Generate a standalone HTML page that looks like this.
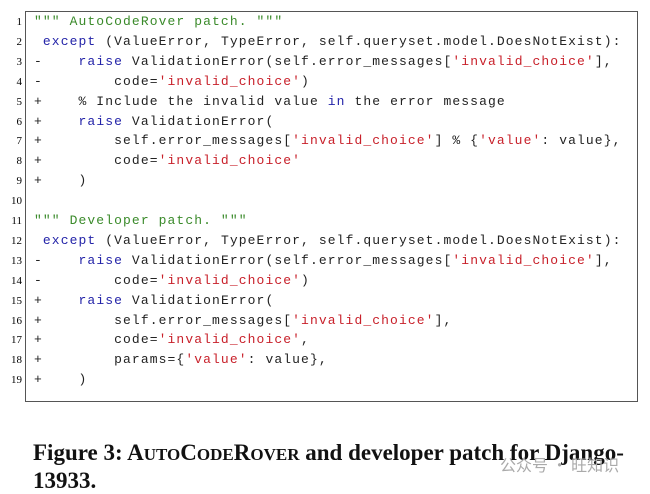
<!DOCTYPE html>
<html><head><meta charset="utf-8"><style>
body{margin:0;width:650px;height:494px;background:#fff;position:relative;overflow:hidden}
.box{position:absolute;left:25px;top:11px;width:613px;height:391px;border:1px solid #555;box-sizing:border-box}
.ln{position:absolute;left:0;width:22px;text-align:right;font:11px "Liberation Serif",serif;color:#000}
.c{position:absolute;left:34px;font:13px "Liberation Mono",monospace;letter-spacing:1.1px;white-space:pre;color:#222}
.k{color:#2323a8}.s{color:#c8202a}.g{color:#3a8a2a}
.cap{position:absolute;left:33px;top:440px;font:bold 23px "Liberation Serif",serif;line-height:26px;color:#111;width:620px;white-space:nowrap}
.sc{font-size:17px}
.wm{position:absolute;left:500px;top:452px;font:16px "Noto Sans CJK SC",sans-serif;color:#aaa}
</style></head><body>
<div class="box"></div>
<div id="L"></div>
<script>
var lines=[
'<span class="g">""" AutoCodeRover patch. """</span>',
' <span class="k">except</span> (ValueError, TypeError, self.queryset.model.DoesNotExist):',
'-    <span class="k">raise</span> ValidationError(self.error_messages[<span class="s">\'invalid_choice\'</span>],',
'-        code=<span class="s">\'invalid_choice\'</span>)',
'+    % Include the invalid value <span class="k">in</span> the error message',
'+    <span class="k">raise</span> ValidationError(',
'+        self.error_messages[<span class="s">\'invalid_choice\'</span>] % {<span class="s">\'value\'</span>: value},',
'+        code=<span class="s">\'invalid_choice\'</span>',
'+    )',
'',
'<span class="g">""" Developer patch. """</span>',
' <span class="k">except</span> (ValueError, TypeError, self.queryset.model.DoesNotExist):',
'-    <span class="k">raise</span> ValidationError(self.error_messages[<span class="s">\'invalid_choice\'</span>],',
'-        code=<span class="s">\'invalid_choice\'</span>)',
'+    <span class="k">raise</span> ValidationError(',
'+        self.error_messages[<span class="s">\'invalid_choice\'</span>],',
'+        code=<span class="s">\'invalid_choice\'</span>,',
'+        params={<span class="s">\'value\'</span>: value},',
'+    )'];
var h='';
for(var i=0;i<lines.length;i++){var y=14+i*19.9;
h+='<div class="ln" style="top:'+(y+2)+'px">'+(i+1)+'</div><div class="c" style="top:'+y+'px">'+lines[i]+'</div>';}
document.getElementById('L').innerHTML=h;
</script>
<div class="cap">Figure 3: A<span class="sc">UTO</span>C<span class="sc">ODE</span>R<span class="sc">OVER</span> and developer patch for Django-<br>13933.</div>
<div class="wm">公众号 · 旺知识</div>
</body></html>
